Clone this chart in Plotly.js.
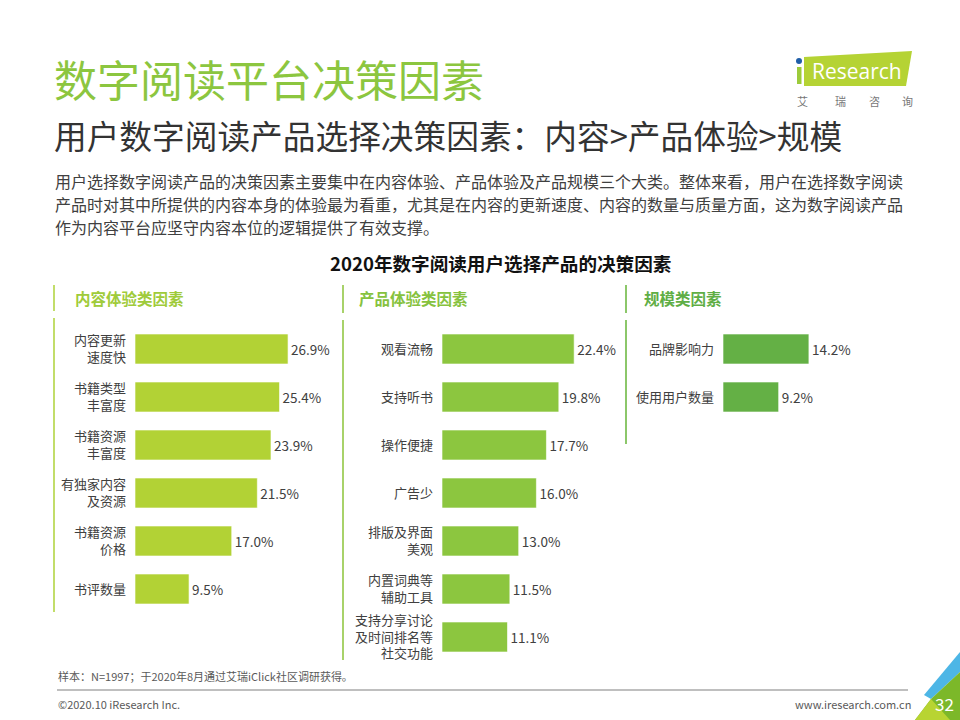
<!DOCTYPE html>
<html>
<head>
<meta charset="utf-8">
<script src="https://cdn.plot.ly/plotly-3.0.1.min.js"></script>
<style>
html,body{margin:0;padding:0;background:#fff;}
#chart{width:960px;height:720px;}
</style>
</head>
<body>
<div id="chart"></div>
<script>
// ---- data ----
const cat1 = ['内容更新<br>速度快','书籍类型<br>丰富度','书籍资源<br>丰富度','有独家内容<br>及资源','书籍资源<br>价格','书评数量'];
const val1 = [26.9, 25.4, 23.9, 21.5, 17.0, 9.5];
const cat2 = ['观看流畅','支持听书','操作便捷','广告少','排版及界面<br>美观','内置词典等<br>辅助工具','支持分享讨论<br>及时间排名等<br>社交功能'];
const val2 = [22.4, 19.8, 17.7, 16.0, 13.0, 11.5, 11.1];
const cat3 = ['品牌影响力','使用用户数量'];
const val3 = [14.2, 9.2];
const groupNames = ['内容体验类因素','产品体验类因素','规模类因素'];

// ---- layout helpers ----
const W = 960, H = 720;
const px = x => x / W;
const py = y => 1 - y / H;
const FONT = '"Noto Sans CJK SC", "Noto Sans", sans-serif';
const TICKFONT = '"DejaVu Sans", "Noto Sans CJK SC", sans-serif';
const colors = ['#b2d235', '#8cc63f', '#64b045'];
const headColors = ['#9fcb3a', '#86c23e', '#5fae45'];

function barTrace(cats, vals, color, xa, ya) {
  return {
    type: 'bar', orientation: 'h', x: vals, y: cats,
    xaxis: xa, yaxis: ya,
    marker: {color: color, line: {color: 'rgba(255,255,255,0.6)', width: 1}},
    texttemplate: '%{x:.1f}%', textposition: 'outside',
    textfont: {family: FONT, size: 13.5, color: '#404040'},
    cliponaxis: false, hoverinfo: 'skip', showlegend: false
  };
}

const data = [
  barTrace(cat1, val1, colors[0], 'x', 'y'),
  barTrace(cat2, val2, colors[1], 'x2', 'y2'),
  barTrace(cat3, val3, colors[2], 'x3', 'y3')
];

const rowH = 48, top0 = 325;
function yaxis(n, anchor) {
  return {
    type: 'category', anchor: anchor,
    domain: [py(top0 + n * rowH), py(top0)],
    range: [n - 0.5, -0.5],
    showgrid: false, zeroline: false, showline: false, ticks: '',
    ticklabelstandoff: 8,
    tickfont: {family: TICKFONT, size: 13, color: '#404040'}
  };
}
function xaxis(x0, pxPerUnit, anchor) {
  return {
    anchor: anchor, domain: [px(x0), px(x0 + 30 * pxPerUnit)],
    range: [0, 30], visible: false, fixedrange: true
  };
}

const shapes = [];
function vline(x, y0, y1, color) {
  shapes.push({type: 'line', xref: 'paper', yref: 'paper',
    x0: px(x), x1: px(x), y0: py(y0), y1: py(y1),
    line: {color: color, width: 2}});
}
vline(54, 285, 311, '#c2dd6a'); vline(54, 318, 612, '#c2dd6a');
vline(343, 285, 313, '#a8d26a'); vline(343, 320, 660, '#a8d26a');
vline(626, 285, 313, '#8cc76a'); vline(626, 320, 444, '#8cc76a');
// footer rule
shapes.push({type: 'line', xref: 'paper', yref: 'paper', x0: px(57), x1: px(908), y0: py(690), y1: py(690),
  line: {color: '#bfbfbf', width: 2}});
function path(pts, color) {
  const d = pts.map((p, i) => (i ? 'L' : 'M') + px(p[0]) + ',' + py(p[1])).join(' ') + ' Z';
  shapes.push({type: 'path', xref: 'paper', yref: 'paper', path: d, fillcolor: color, line: {width: 0}});
}
// logo box
path([[804, 57], [912, 51], [906, 86], [804, 86]], '#b5d334');
// logo "i": green stem + blue dot
shapes.push({type: 'rect', xref: 'paper', yref: 'paper', x0: px(797), x1: px(801.5), y0: py(84), y1: py(67),
  fillcolor: '#9ccb3b', line: {width: 0}});
shapes.push({type: 'circle', xref: 'paper', yref: 'paper', x0: px(796), x1: px(802), y0: py(58), y1: py(64),
  fillcolor: '#1f5ea8', line: {width: 0}});
// bottom-right decoration
path([[924, 695], [960, 652], [960, 672], [931, 699]], '#4db6e6');
path([[915, 720], [931, 699], [960, 672], [960, 720]], '#7cb829');
path([[915, 720], [931, 699], [950, 720]], '#b8d432');

const ann = [];
function text(t, x, y, size, color, opts = {}) {
  ann.push(Object.assign({text: t, xref: 'paper', yref: 'paper', x: px(x), y: py(y),
    xanchor: 'left', yanchor: 'middle', showarrow: false,
    font: {family: FONT, size: size, color: color}}, opts));
}
text('数字阅读平台决策因素', 52, 78, 43, '#8cc63f');
text('用户数字阅读产品选择决策因素：内容>产品体验>规模', 52, 134, 32.7, '#333333');
text('用户选择数字阅读产品的决策因素主要集中在内容体验、产品体验及产品规模三个大类。整体来看，用户在选择数字阅读', 53, 181, 16, '#404040');
text('产品时对其中所提供的内容本身的体验最为看重，尤其是在内容的更新速度、内容的数量与质量方面，这为数字阅读产品', 53, 204, 16, '#404040');
text('作为内容平台应坚守内容本位的逻辑提供了有效支撑。', 53, 227, 16, '#404040');
text('<b>2020年数字阅读用户选择产品的决策因素</b>', 500, 262, 18.6, '#111111', {xanchor: 'center'});
text('<b>' + groupNames[0] + '</b>', 73, 298, 15.5, headColors[0]);
text('<b>' + groupNames[1] + '</b>', 357, 298, 15.5, headColors[1]);
text('<b>' + groupNames[2] + '</b>', 642, 298, 15.5, headColors[2]);
text('样本：N=1997；于2020年8月通过艾瑞iClick社区调研获得。', 56, 676, 11, '#595959');
text('©2020.10 iResearch Inc.', 56, 704, 11, '#595959');
text('www.iresearch.com.cn', 913, 704, 11, '#595959', {xanchor: 'right'});
text('32', 944, 703, 17, '#ffffff', {xanchor: 'center'});
text('Research', 857, 71, 21, '#ffffff', {xanchor: 'center', font: {family: '"Open Sans", sans-serif', size: 21, color: '#ffffff'}});
text('艾', 802, 101, 11, '#777777', {xanchor: 'center'});
text('瑞', 840, 101, 11, '#777777', {xanchor: 'center'});
text('咨', 874, 101, 11, '#777777', {xanchor: 'center'});
text('询', 907, 101, 11, '#777777', {xanchor: 'center'});

const layout = {
  width: W, height: H, margin: {l: 0, r: 0, t: 0, b: 0},
  paper_bgcolor: '#ffffff', plot_bgcolor: 'rgba(0,0,0,0)',
  bargap: 0.375, showlegend: false,
  font: {family: FONT},
  xaxis: xaxis(135, 5.69, 'y'),
  xaxis2: xaxis(442, 5.9, 'y2'),
  xaxis3: xaxis(723, 6.05, 'y3'),
  yaxis: yaxis(cat1.length, 'x'),
  yaxis2: yaxis(cat2.length, 'x2'),
  yaxis3: yaxis(cat3.length, 'x3'),
  shapes: shapes, annotations: ann
};
Plotly.newPlot('chart', data, layout, {displayModeBar: false, staticPlot: true});
</script>
</body>
</html>
